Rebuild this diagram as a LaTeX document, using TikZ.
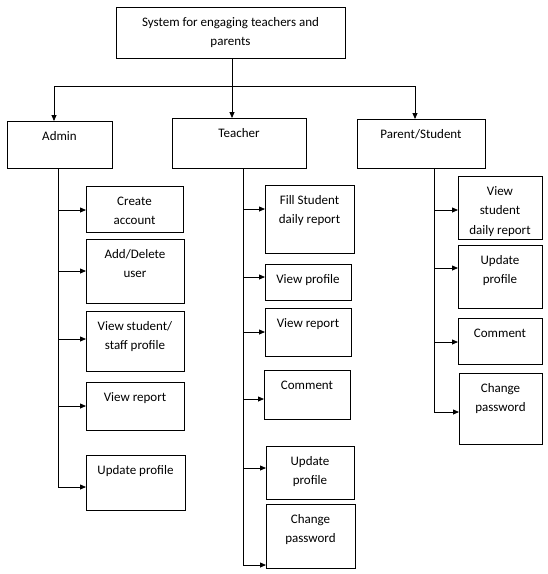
\documentclass[tikz,border=0pt]{standalone}
\usepackage{fontspec}
\setmainfont{Carlito}
\usetikzlibrary{arrows.meta}
\begin{document}
\begin{tikzpicture}[x=1pt,y=-1pt,
  box/.style={draw,line width=0.8pt,inner sep=0pt,outer sep=0pt},
  txt/.style={font=\fontsize{13}{19.5}\selectfont,align=center,inner sep=0pt,anchor=north},
  ln/.style={line width=0.8pt},
  arr/.style={line width=0.8pt,-{Triangle[length=6pt,width=5pt]}}]
\useasboundingbox (0,0) rectangle (548,574);
\newcommand\bx[7][5.4]{%
  \node[box,anchor=north west,minimum width={#5pt-#3pt},minimum height={#6pt-#4pt}] (#2) at (#3,#4) {};
  \node[txt] (#2t) at ([yshift=-#1pt]#2.north) {\strut #7};}
\bx{top}{116}{7}{345}{58}{System for engaging teachers and\\parents}
\bx{admin}{7}{121}{112}{168}{Admin}
\bx{teacher}{172}{118}{306}{168}{Teacher}
\bx{parent}{357}{119}{485}{168}{Parent/Student}
\bx{a1}{86}{186}{183}{232}{Create\\account}
\bx{a2}{86}{239}{184}{303}{Add/Delete\\user}
\bx{a3}{86}{311}{184}{371}{View student/\\staff profile}
\bx{a4}{86}{382}{184}{430}{View report}
\bx{a5}{86}{455}{185}{510}{Update profile}
\bx{t1}{265}{185}{354}{253}{Fill Student\\daily report}
\bx{t2}{265}{264}{351}{300}{View profile}
\bx{t3}{265}{308}{351}{356}{View report}
\bx{t4}{264}{370}{350}{419}{Comment}
\bx{t5}{266}{446}{354}{499}{Update\\profile}
\bx{t6}{266}{504}{355}{568}{Change\\password}
\bx{p1}{458}{176}{542}{239}{View\\student\\daily report}
\bx{p2}{458}{245}{542}{308}{Update\\profile}
\bx{p3}{458}{318}{542}{364}{Comment}
\bx{p4}{459}{373}{542}{444}{Change\\password}
% top connectors
\coordinate (h) at (232,86);
\coordinate (hl) at (54,86);
\coordinate (hr) at (415,86);
\draw[ln] (h |- top.south) -- (h);
\draw[ln] (hl) -- (hr);
\draw[arr] (hl) -- (hl |- admin.north);
\draw[arr] (h) -- (h |- teacher.north);
\draw[arr] (hr) -- (hr |- parent.north);
% trunks
\coordinate (ta) at (58,488);
\coordinate (tt) at (243,565);
\coordinate (tp) at (434,413);
\draw[ln] (ta |- admin.south) -- (ta);
\draw[ln] (tt |- teacher.south) -- (tt);
\draw[ln] (tp |- parent.south) -- (tp);
\foreach \n/\y in {a1/210,a2/271,a3/339,a4/406,a5/487}{
  \coordinate (\n c) at (58,\y);
  \draw[arr] (\n c) -- (\n c -| \n.west);}
\foreach \n/\y in {t1/209,t2/277,t3/332,t4/399,t5/468,t6/565}{
  \coordinate (\n c) at (243,\y);
  \draw[arr] (\n c) -- (\n c -| \n.west);}
\foreach \n/\y in {p1/210,p2/268,p3/342,p4/412}{
  \coordinate (\n c) at (434,\y);
  \draw[arr] (\n c) -- (\n c -| \n.west);}
\end{tikzpicture}
\end{document}
